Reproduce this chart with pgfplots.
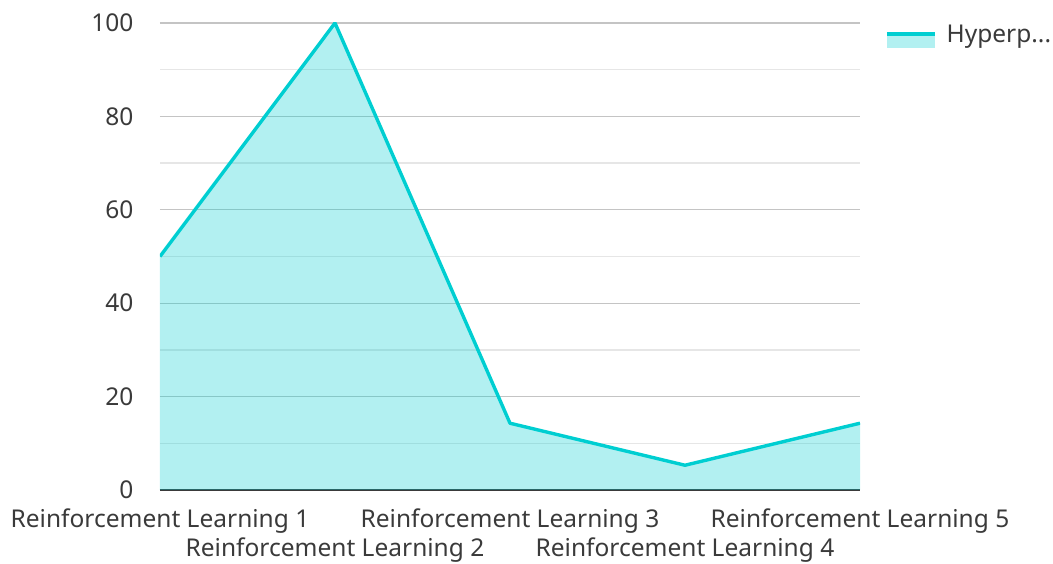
\documentclass[border=0pt]{standalone}
\usepackage{pgfplots}
\pgfplotsset{compat=1.18}
\usepackage{fontspec}
\setmainfont{Noto Sans}
\definecolor{lc}{HTML}{00CED1}
\definecolor{tc}{HTML}{3A3A3A}
\definecolor{majg}{HTML}{C4C4C4}
\definecolor{ming}{HTML}{E6E6E6}
\begin{document}
\begin{tikzpicture}
\useasboundingbox (-160pt,-74pt) rectangle (893pt,490pt);
\begin{axis}[
  at={(0pt,0pt)}, anchor=south west,
  scale only axis, width=700pt, height=467pt,
  xmin=0, xmax=4, ymin=0, ymax=100,
  axis x line*=bottom, axis y line*=left,
  y axis line style={draw=none},
  x axis line style={draw=tc, line width=1.8pt},
  xtick={0,2,4},
  xticklabels={Reinforcement Learning 1, Reinforcement Learning 3, Reinforcement Learning 5},
  extra x ticks={1,3},
  extra x tick labels={Reinforcement Learning 2, Reinforcement Learning 4},
  extra x tick style={xticklabel style={yshift=-29pt}},
  ytick={0,20,40,60,80,100},
  minor ytick={10,30,50,70,90},
  ymajorgrids, yminorgrids,
  major grid style={draw=majg, line width=1.3pt},
  minor grid style={draw=ming, line width=1.3pt},
  major tick length=0pt, minor tick length=0pt,
  tick label style={font=\fontsize{24.5}{29}\selectfont, text=tc},
  /pgf/number format/assume math mode=true,
  yticklabel style={xshift=-23pt},
  xticklabel style={yshift=-15pt},
  legend style={at={(1,1)}, anchor=north west, xshift=22pt, yshift=2pt, draw=none, fill=none,
    font=\fontsize{24.5}{29}\selectfont, text=tc},
  legend cell align=left,
]
\addplot[fill=lc, fill opacity=0.3, draw=none, forget plot] coordinates {
  (0,50) (1,100) (2,14.3) (3,5.3) (4,14.3)
} \closedcycle;
\addplot[draw=lc, line width=3.4pt, line join=round,
  legend image code/.code={
    \path[draw=none, fill=lc, fill opacity=0.3] (0pt,-1pt) rectangle (48pt,-13pt);
    \path[draw=lc, line width=3.5pt] (0pt,0.5pt) -- (48pt,0.5pt);
    \path (56pt,0pt);
  }] coordinates {
  (0,50) (1,100) (2,14.3) (3,5.3) (4,14.3)
};
\addlegendentry{Hyperp...}
\end{axis}
\end{tikzpicture}
\end{document}
